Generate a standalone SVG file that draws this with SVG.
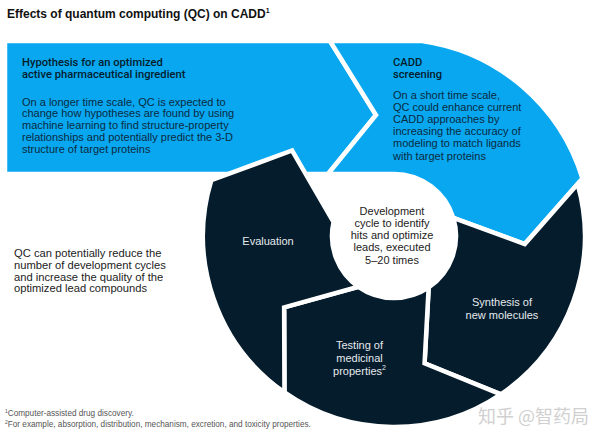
<svg xmlns="http://www.w3.org/2000/svg" width="600" height="440" viewBox="0 0 600 440">
<style>
.bg{fill:#ffffff}
.blue{fill:#08a7f0;stroke:#ffffff;stroke-width:4.5;stroke-linejoin:miter}
.dark{fill:#051c2c;stroke:#ffffff;stroke-width:4.5;stroke-linejoin:miter}
text{font-family:"Liberation Sans",Arial,sans-serif}
.title{font-size:12px;font-weight:bold;fill:#111111}
.head{font-family:Roboto,"Liberation Sans",sans-serif;font-weight:500;font-size:11.2px;fill:#051c2c}
.body{font-size:11px;fill:#0b2a40}
.lt{font-size:11px;fill:#e6eaee;text-anchor:middle}
.ctr{font-size:11px;fill:#222222;text-anchor:middle}
.note{font-size:11.2px;fill:#222222}
.foot{font-size:8.2px;fill:#555555}
.wm{font-family:"Noto Sans CJK SC","Liberation Sans",sans-serif;font-size:18px;fill:#d0d0d0}
</style>
<rect class="bg" x="0" y="0" width="600" height="440"/>

<g id="title">
<text class="title" x="7" y="18">Effects of quantum computing (QC) on CADD<tspan font-size="7" dy="-5">1</tspan></text>
</g>

<g id="hypothesis">
<path class="blue" d="M5,41 L330,41 L376,115 L328,174 L5,174 Z"/>
<text class="head" x="22" y="66">Hypothesis for an optimized</text>
<text class="head" x="22" y="78">active pharmaceutical ingredient</text>
<text class="body" x="22" y="105.5">On a longer time scale, QC is expected to</text>
<text class="body" x="22" y="117.3">change how hypotheses are found by using</text>
<text class="body" x="22" y="129.1">machine learning to find structure-property</text>
<text class="body" x="22" y="140.9">relationships and potentially predict the 3-D</text>
<text class="body" x="22" y="152.7">structure of target proteins</text>
</g>

<g id="cadd-screening">
<path class="blue" d="M330,41 L422,41 A197,197 0 0 1 582.4,178.4 L524.75,244 L453.29,217.87 A62,62 0 0 0 394,174 L328,174 L376,115 Z"/>
<text class="head" x="393" y="66">CADD</text>
<text class="head" x="393" y="77.5">screening</text>
<text class="body" x="393" y="98.5">On a short time scale,</text>
<text class="body" x="393" y="110.7">QC could enhance current</text>
<text class="body" x="393" y="122.9">CADD approaches by</text>
<text class="body" x="393" y="135.1">increasing the accuracy of</text>
<text class="body" x="393" y="147.3">modeling to match ligands</text>
<text class="body" x="393" y="159.5">with target proteins</text>
</g>

<g id="synthesis">
<path class="dark" d="M453.29,217.87 L524.75,244 L577.6,184 A191,191 0 0 1 500.8,394.35 L424.58,363.38 L428.67,287.4 A62,62 0 0 0 453.29,217.87 Z"/>
<text class="lt" x="502" y="305.5">Synthesis of</text>
<text class="lt" x="502" y="318.7">new molecules</text>
</g>

<g id="testing">
<path class="dark" d="M428.67,287.4 L424.58,363.38 L500.8,394.35 A191,191 0 0 1 284.45,392.46 L284.13,307.35 L358.44,286.79 A62,62 0 0 0 428.67,287.4 Z"/>
<text class="lt" x="359.5" y="348.5">Testing of</text>
<text class="lt" x="359.5" y="361.5">medicinal</text>
<text class="lt" x="359.5" y="374.5">properties<tspan font-size="7" dy="-5">2</tspan></text>
</g>

<g id="evaluation">
<path class="dark" d="M358.44,286.79 L284.13,307.35 L284.45,392.46 A191,191 0 0 1 211.35,180.16 L292.12,150.51 L333.59,222.05 A62,62 0 0 0 358.44,286.79 Z"/>
<text class="lt" x="268" y="244.5">Evaluation</text>
</g>

<g id="development-cycle">
<text class="ctr" x="392" y="214.8">Development</text>
<text class="ctr" x="392" y="227">cycle to identify</text>
<text class="ctr" x="392" y="239.2">hits and optimize</text>
<text class="ctr" x="392" y="251.4">leads, executed</text>
<text class="ctr" x="392" y="263.6">5–20 times</text>
</g>

<g id="note">
<text class="note" x="14" y="257.3">QC can potentially reduce the</text>
<text class="note" x="14" y="269">number of development cycles</text>
<text class="note" x="14" y="280.7">and increase the quality of the</text>
<text class="note" x="14" y="292.4">optimized lead compounds</text>
</g>

<g id="connectors"></g>

<g id="footnotes">
<text class="foot" x="5" y="416"><tspan font-size="5" dy="-3">1</tspan><tspan dy="3">Computer-assisted drug discovery.</tspan></text>
<text class="foot" x="5" y="426.5"><tspan font-size="5" dy="-3">2</tspan><tspan dy="3">For example, absorption, distribution, mechanism, excretion, and toxicity properties.</tspan></text>
</g>

<g id="watermark">
<text class="wm" x="478" y="423">知乎 @智药局</text>
</g>
</svg>
